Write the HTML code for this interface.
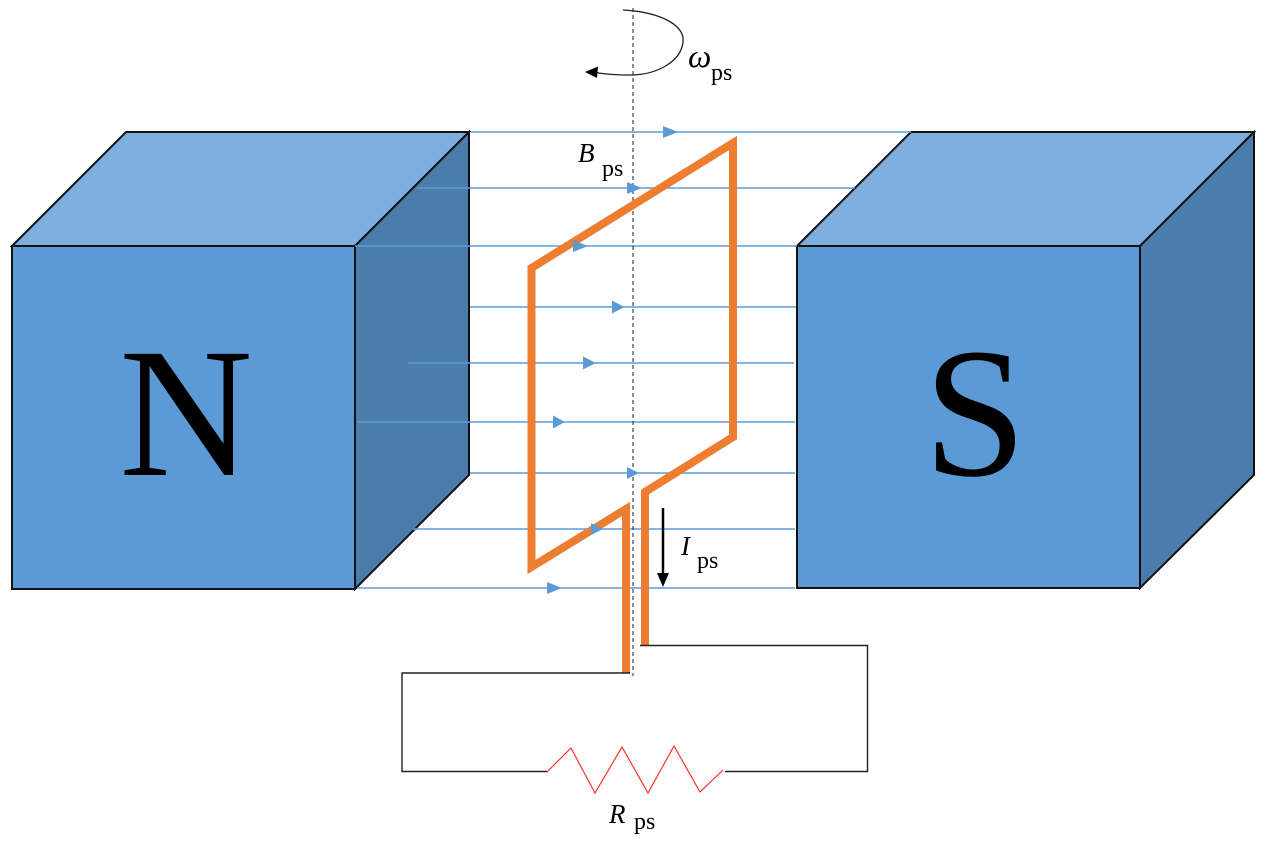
<!DOCTYPE html>
<html>
<head>
<meta charset="utf-8">
<style>
html,body{margin:0;padding:0;background:#fff;}
svg{display:block;}
</style>
</head>
<body>
<svg width="1266" height="844" viewBox="0 0 1266 844" xmlns="http://www.w3.org/2000/svg">
<rect x="0" y="0" width="1266" height="844" fill="#fff"/>

<!-- N magnet -->
<g stroke="#111" stroke-width="2" stroke-linejoin="miter">
  <polygon points="12,246 126,132 469,132 355,246" fill="#7daedd"/>
  <polygon points="355,246 469,132 469,475 355,589" fill="#4a7dab"/>
  <rect x="12" y="246" width="343" height="343" fill="#5b9ad5"/>
</g>
<text x="186" y="475" font-family="'Liberation Serif', serif" font-size="185" text-anchor="middle" fill="#000">N</text>

<!-- S magnet -->
<g stroke="#111" stroke-width="2" stroke-linejoin="miter">
  <polygon points="797,246 911,132 1254,132 1140,246" fill="#7daedd"/>
  <polygon points="1140,246 1254,132 1254,475 1140,588" fill="#4a7dab"/>
  <rect x="797" y="246" width="343" height="342" fill="#5b9ad5"/>
</g>
<text x="975" y="475" font-family="'Liberation Serif', serif" font-size="185" text-anchor="middle" fill="#000">S</text>

<!-- field lines -->
<g stroke="#5b9bd5" stroke-width="1.4">
  <line x1="471" y1="132" x2="911" y2="132"/>
  <line x1="417" y1="188" x2="855" y2="188"/>
  <line x1="355" y1="246" x2="797" y2="246"/>
  <line x1="470" y1="307" x2="796" y2="307"/>
  <line x1="408" y1="363" x2="794" y2="363"/>
  <line x1="357" y1="422" x2="795" y2="422"/>
  <line x1="470" y1="473" x2="795" y2="473"/>
  <line x1="413" y1="529" x2="795" y2="529"/>
  <line x1="357" y1="588" x2="795" y2="588"/>
</g>

<!-- dashed axis -->
<line x1="633" y1="8" x2="633" y2="676" stroke="#333" stroke-width="1.1" stroke-dasharray="4,3"/>

<!-- coil -->
<g fill="none" stroke="#ed7d31" stroke-width="8" stroke-linejoin="miter" stroke-linecap="butt">
  <polyline points="626,673 626,509 531.5,567 531.5,268 733,143 733,437 645,492 645,645"/>
</g>

<!-- field arrowheads -->
<g fill="#5b9bd5">
  <polygon points="663,126 663,138 678,132"/>
  <polygon points="627,182 627,194 642,188"/>
  <polygon points="573,240 573,252 588,246"/>
  <polygon points="612,300.5 612,313.5 624.5,307"/>
  <polygon points="583,356.5 583,369.5 596,363"/>
  <polygon points="553,415.5 553,428.5 565,422"/>
  <polygon points="627,467 627,479 639,473"/>
  <polygon points="591,523 591,535 603,529"/>
  <polygon points="547,582 547,594 562,588"/>
</g>

<!-- circuit wires -->
<g fill="none" stroke="#222" stroke-width="1.4">
  <polyline points="630,673 402,673 402,771.5 547,771.5"/>
  <polyline points="725,771.5 867.5,771.5 867.5,645.5 640,645.5"/>
</g>
<polyline points="547,772 571,748 595,793 622,747 648,793 674,746 700,792 723,770" fill="none" stroke="#ff2020" stroke-width="1.1"/>

<!-- rotation arrow -->
<path d="M 623 10 C 660 12 685 25 683 42 C 681 62 656 75 630 75 C 615 75 604 74 596 72.5" fill="none" stroke="#222" stroke-width="1.3"/>
<polygon points="585,72 598,66.5 597,78" fill="#000"/>

<!-- current arrow -->
<line x1="663" y1="508" x2="663" y2="575" stroke="#000" stroke-width="2.5"/>
<polygon points="657,573 669,573 663,587" fill="#000"/>

<!-- labels -->
<g font-family="'Liberation Serif', serif" fill="#000">
  <text x="688" y="67" font-size="33" font-style="italic">ω</text>
  <text x="711" y="80" font-size="24">ps</text>
  <text x="578" y="162" font-size="27" font-style="italic">B</text>
  <text x="602" y="176" font-size="24">ps</text>
  <text x="681" y="555" font-size="27" font-style="italic">I</text>
  <text x="697" y="568" font-size="24">ps</text>
  <text x="609" y="823" font-size="27" font-style="italic">R</text>
  <text x="634" y="829" font-size="24">ps</text>
</g>
</svg>
</body>
</html>
